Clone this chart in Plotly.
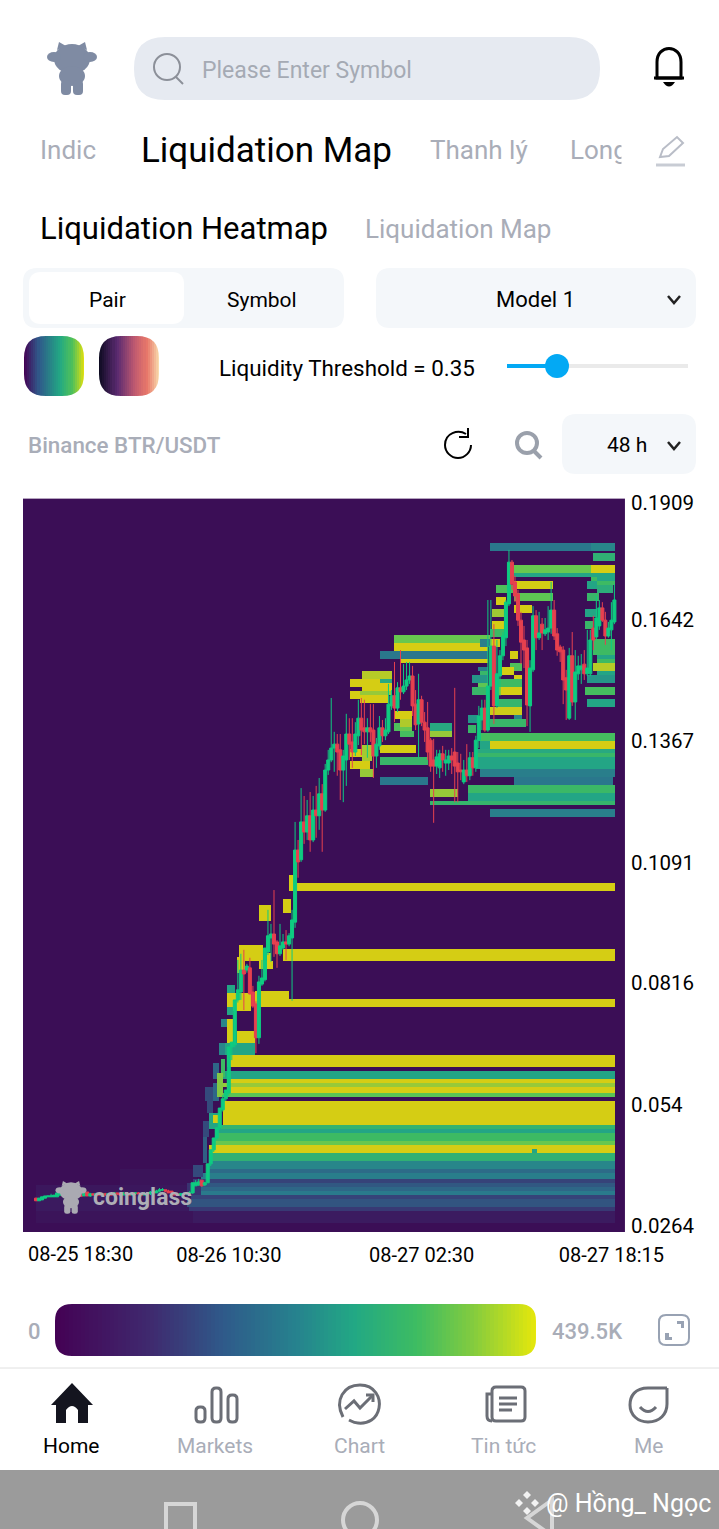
import numpy as np
import pandas as pd
import plotly.graph_objects as go

# BTR/USDT 15 min candles, prices in 1e-4 USDT
start_time = pd.Timestamp("2025-08-25 18:30")

candle_open = [
    327, 321, 323, 327, 330, 330, 330, 330, 334, 337, 334, 337, 334, 334, 339, 334, 332, 341, 332, 337,
    334, 337, 334, 337, 334, 337, 334, 339, 337, 334, 339, 337, 334, 337, 339, 337, 334, 337, 337, 341,
    339, 343, 346, 346, 343, 343, 339, 334, 334, 337, 337, 339, 339, 355, 357, 368, 357, 362, 405, 437,
    464, 487, 528, 553, 566, 671, 676, 778, 796, 846, 846, 851, 796, 769, 692, 814, 824, 887, 919, 928,
    910, 883, 896, 910, 905, 919, 955, 1119, 1097, 1183, 1160, 1197, 1142, 1210, 1197, 1247, 1210, 1301, 1324, 1351,
    1360, 1347, 1301, 1324, 1383, 1365, 1342, 1379, 1419, 1397, 1388, 1397, 1392, 1333, 1356, 1397, 1379, 1388, 1447, 1470,
    1442, 1488, 1479, 1492, 1506, 1515, 1451, 1406, 1461, 1410, 1397, 1369, 1324, 1310, 1306, 1338, 1317, 1317, 1333, 1342,
    1317, 1301, 1274, 1301, 1288, 1329, 1306, 1369, 1415, 1442, 1392, 1492, 1583, 1447, 1515, 1561, 1602, 1679, 1774, 1729,
    1702, 1642, 1597, 1579, 1447, 1529, 1652, 1602, 1633, 1611, 1615, 1624, 1665, 1611, 1581, 1574, 1511, 1419, 1561, 1456,
    1520, 1529, 1542, 1520, 1520, 1624, 1604, 1629, 1670, 1642, 1606, 1620, 1638,
]
candle_high = [
    328, 328, 330, 332, 332, 337, 334, 339, 339, 339, 339, 339, 337, 339, 341, 336, 341, 341, 339, 337,
    339, 339, 337, 339, 339, 339, 341, 339, 339, 341, 341, 337, 339, 341, 341, 339, 341, 339, 343, 346,
    346, 350, 350, 346, 346, 343, 341, 339, 339, 339, 341, 343, 362, 368, 371, 368, 364, 405, 437, 464,
    487, 532, 562, 573, 671, 682, 778, 869, 883, 892, 860, 874, 810, 775, 833, 869, 896, 983, 951, 1028,
    914, 951, 928, 937, 930, 983, 1183, 1142, 1260, 1242, 1233, 1251, 1242, 1265, 1283, 1269, 1315, 1347, 1465, 1388,
    1383, 1383, 1347, 1429, 1419, 1419, 1410, 1461, 1465, 1461, 1419, 1451, 1451, 1374, 1424, 1415, 1419, 1497, 1483, 1547,
    1501, 1574, 1542, 1547, 1547, 1538, 1483, 1520, 1470, 1433, 1456, 1374, 1372, 1347, 1347, 1356, 1347, 1347, 1351, 1488,
    1342, 1338, 1324, 1360, 1342, 1342, 1379, 1447, 1461, 1461, 1688, 1688, 1633, 1597, 1574, 1615, 1688, 1802, 1779, 1743,
    1711, 1661, 1629, 1597, 1551, 1674, 1665, 1661, 1647, 1647, 1674, 1729, 1688, 1624, 1586, 1583, 1529, 1579, 1615, 1574,
    1561, 1565, 1574, 1620, 1620, 1652, 1697, 1688, 1683, 1661, 1638, 1683, 1724,
]
candle_low = [
    321, 321, 323, 327, 330, 330, 330, 330, 332, 334, 334, 334, 332, 334, 334, 330, 332, 332, 330, 334,
    332, 334, 334, 334, 334, 334, 334, 334, 334, 334, 334, 334, 332, 334, 337, 334, 334, 334, 334, 339,
    339, 341, 343, 341, 339, 339, 334, 332, 332, 334, 334, 337, 337, 355, 355, 353, 355, 362, 400, 432,
    460, 482, 524, 548, 560, 641, 670, 772, 778, 755, 840, 790, 760, 657, 678, 810, 820, 880, 865, 876,
    851, 878, 892, 869, 900, 776, 942, 1056, 1092, 1133, 1142, 1115, 1137, 1147, 1165, 1115, 1206, 1290, 1319, 1297,
    1288, 1233, 1228, 1265, 1324, 1306, 1333, 1358, 1335, 1360, 1329, 1365, 1283, 1306, 1347, 1365, 1369, 1383, 1438, 1410,
    1433, 1461, 1474, 1483, 1497, 1424, 1392, 1329, 1401, 1365, 1324, 1297, 1181, 1292, 1283, 1297, 1288, 1301, 1292, 1228,
    1228, 1278, 1269, 1274, 1278, 1288, 1297, 1351, 1392, 1388, 1388, 1483, 1406, 1442, 1470, 1551, 1583, 1674, 1711, 1683,
    1629, 1542, 1533, 1401, 1388, 1524, 1574, 1597, 1574, 1606, 1597, 1611, 1597, 1561, 1547, 1451, 1415, 1415, 1447, 1415,
    1506, 1497, 1506, 1515, 1515, 1574, 1597, 1620, 1638, 1586, 1602, 1574, 1633,
]
candle_close = [
    321, 327, 330, 332, 332, 332, 334, 339, 337, 334, 337, 334, 337, 339, 334, 332, 341, 332, 337, 334,
    337, 334, 337, 334, 337, 334, 339, 337, 334, 339, 337, 334, 337, 339, 337, 334, 337, 337, 341, 339,
    343, 346, 346, 343, 339, 339, 334, 334, 337, 337, 339, 339, 362, 362, 364, 355, 362, 405, 437, 464,
    487, 532, 553, 573, 671, 682, 778, 801, 846, 837, 855, 792, 764, 692, 819, 828, 896, 924, 928, 905,
    883, 901, 910, 905, 924, 960, 1119, 1092, 1183, 1160, 1197, 1142, 1210, 1197, 1247, 1210, 1301, 1324, 1351, 1360,
    1342, 1301, 1333, 1383, 1360, 1342, 1383, 1419, 1392, 1388, 1397, 1388, 1333, 1360, 1397, 1379, 1392, 1451, 1470, 1442,
    1488, 1479, 1492, 1506, 1515, 1447, 1404, 1461, 1410, 1392, 1342, 1310, 1310, 1331, 1338, 1324, 1324, 1333, 1324, 1310,
    1297, 1297, 1301, 1288, 1329, 1306, 1369, 1424, 1442, 1392, 1492, 1583, 1447, 1520, 1561, 1606, 1683, 1774, 1724, 1697,
    1642, 1592, 1574, 1449, 1533, 1652, 1602, 1613, 1613, 1620, 1624, 1665, 1606, 1574, 1570, 1506, 1483, 1561, 1456, 1524,
    1538, 1538, 1520, 1533, 1597, 1597, 1647, 1670, 1642, 1606, 1624, 1642, 1688,
]

# liquidation bands: hours after start_time, price 1e-4 USDT, liquidity in K
band_start = [
    0, 0, 0, 7, 12.5, 13.0, 12.6, 12.5, 12.9, 13.6,
    13.6, 13.6, 13.0, 13.6, 14.3, 14.3, 14.4, 14.3, 14.8, 14.8,
    14.8, 14.8, 15.44, 15.27, 15.9, 15.27, 15.9, 15.27, 15.77, 15.1,
    15.1, 15.77, 16.6, 15.27, 15.77, 15.77, 15.77, 18.09, 21.08, 16.76,
    16.6, 18.42, 19.09, 20.58, 18.42, 20.58, 21.08, 21.58, 14.69, 15.27,
    14.6, 14.0, 15.02, 14.11, 14.27, 14.7, 13.78, 13.78, 13.03, 28.55,
    28.55, 28.55, 26.06, 27.06, 26.06, 26.89, 29.71, 30.21, 30.21, 30.21,
    29.71, 32.7, 32.7, 32.7, 26.06, 28.55, 27.06, 27.06, 26.06, 26.89,
    26.89, 29.71, 29.71, 28.55, 30.21, 36.85, 37.68, 37.68, 37.84, 37.84,
    38.18, 38.18, 39.67, 39.67, 39.67, 37.68, 45.98, 46.14, 39.67, 45.98,
    39.67, 45.98, 46.47, 45.64, 46.47, 45.64, 45.48, 45.48, 46.14, 46.47,
    46.47, 46.14, 46.47, 45.64, 45.48, 45.64, 36.68, 36.85, 36.18, 36.68,
    36.18, 39.34, 39.34, 38.67, 39.67, 38.34, 38.34, 38.34, 37.68, 39.67,
    37.68, 35.85, 35.85, 36.68, 36.85, 36.85, 37.68, 36.52, 36.52, 36.52,
    36.85, 39.67, 35.85, 35.85, 32.7, 37.68, 41.16,
]
band_end = [
    13.3, 13.3, 13.3, 13.3, 14.0, 48.05, 48.05, 48.05, 48.05, 48.05,
    48.05, 48.05, 48.05, 48.05, 48.05, 48.05, 48.05, 48.05, 48.05, 48.05,
    48.05, 48.05, 48.05, 48.05, 48.05, 48.05, 48.05, 48.05, 48.05, 18.17,
    15.6, 16.27, 18.09, 15.77, 17.76, 16.27, 16.43, 21.08, 48.05, 18.76,
    17.26, 19.75, 19.58, 48.05, 19.58, 21.24, 21.74, 48.05, 15.1, 15.7,
    15.1, 14.6, 15.44, 14.6, 15.27, 15.1, 14.27, 14.19, 13.78, 32.53,
    32.53, 31.54, 27.06, 27.89, 27.72, 28.05, 30.21, 31.37, 31.2, 31.2,
    31.2, 34.52, 34.52, 35.02, 28.55, 29.55, 29.55, 29.55, 26.89, 29.55,
    29.21, 37.68, 37.51, 37.51, 37.51, 37.68, 38.51, 38.84, 38.84, 38.84,
    39.0, 39.67, 42.82, 42.82, 41.16, 48.05, 48.05, 48.05, 45.98, 48.05,
    48.05, 48.05, 48.05, 46.47, 47.8, 46.64, 46.47, 46.14, 48.05, 48.05,
    48.05, 48.05, 48.05, 48.05, 48.05, 48.05, 37.51, 37.51, 37.51, 37.51,
    37.51, 40.0, 40.33, 39.67, 40.33, 40.33, 40.33, 40.33, 40.33, 40.33,
    40.67, 36.68, 36.52, 48.05, 48.05, 37.68, 48.05, 48.05, 48.05, 48.05,
    48.05, 47.8, 48.05, 48.05, 48.05, 48.05, 41.5,
]
band_low = [
    300, 273, 337, 359, 337, 273, 301, 310, 328, 337,
    346, 355, 364, 373, 387, 396, 414, 432, 451, 460,
    478, 487, 496, 560, 569, 582, 592, 601, 628, 655,
    655, 682, 682, 719, 755, 746, 796, 764, 764, 869,
    842, 851, 869, 869, 960, 978, 1028, 1028, 601, 603,
    550, 550, 557, 523, 487, 500, 466, 407, 375, 1269,
    1315, 1342, 1333, 1324, 1306, 1288, 1392, 1379, 1392, 1401,
    1419, 1379, 1392, 1242, 1492, 1501, 1511, 1483, 1465, 1474,
    1456, 1592, 1574, 1556, 1547, 1583, 1583, 1606, 1624, 1652,
    1679, 1706, 1715, 1688, 1661, 1802, 1802, 1779, 1752, 1752,
    1743, 1724, 1733, 1715, 1706, 1688, 1652, 1624, 1565, 1556,
    1547, 1529, 1520, 1501, 1474, 1447, 1529, 1511, 1501, 1492,
    1474, 1556, 1529, 1520, 1501, 1492, 1474, 1447, 1429, 1419,
    1401, 1410, 1388, 1369, 1351, 1360, 1351, 1342, 1333, 1306,
    1288, 1269, 1251, 1233, 1224, 1197, 432,
]
band_high = [
    337, 300, 359, 396, 364, 301, 310, 328, 337, 346,
    355, 364, 373, 387, 396, 414, 432, 451, 460, 478,
    487, 496, 550, 569, 582, 592, 601, 619, 655, 682,
    682, 737, 710, 737, 796, 764, 814, 801, 783, 905,
    878, 869, 887, 896, 996, 1010, 1065, 1046, 637, 646,
    589, 580, 612, 557, 523, 515, 505, 466, 403, 1288,
    1333, 1360, 1351, 1360, 1324, 1306, 1410, 1392, 1401, 1419,
    1438, 1392, 1410, 1260, 1511, 1511, 1529, 1501, 1483, 1483,
    1474, 1611, 1592, 1574, 1556, 1602, 1602, 1624, 1642, 1670,
    1697, 1724, 1733, 1706, 1679, 1820, 1820, 1797, 1770, 1770,
    1752, 1743, 1743, 1733, 1724, 1706, 1670, 1642, 1602, 1565,
    1556, 1547, 1529, 1520, 1492, 1465, 1538, 1529, 1520, 1501,
    1492, 1574, 1547, 1538, 1520, 1511, 1492, 1465, 1447, 1429,
    1419, 1429, 1406, 1388, 1360, 1369, 1369, 1351, 1342, 1333,
    1306, 1288, 1269, 1251, 1233, 1215, 441,
]
band_value = [
    11, 5, 8, 5, 35, 12, 45, 85, 60, 135,
    110, 90, 60, 140, 115, 150, 220, 430, 300, 250,
    190, 230, 430, 285, 430, 350, 430, 190, 430, 190,
    150, 430, 430, 150, 430, 190, 190, 430, 430, 430,
    430, 430, 430, 430, 430, 430, 430, 430, 110, 250,
    110, 70, 330, 70, 190, 430, 70, 100, 70, 130,
    240, 430, 430, 370, 430, 350, 270, 260, 300, 380,
    430, 350, 200, 350, 430, 200, 390, 430, 430, 350,
    430, 300, 430, 130, 430, 140, 430, 250, 430, 360,
    430, 270, 430, 290, 430, 130, 150, 220, 300, 430,
    190, 250, 190, 190, 210, 240, 190, 240, 250, 190,
    250, 390, 190, 170, 260, 190, 140, 240, 170, 290,
    240, 430, 270, 430, 430, 250, 430, 235, 420, 150,
    240, 170, 240, 260, 190, 190, 430, 200, 240, 190,
    140, 130, 245, 190, 235, 140, 190,
]

price_ticks = [0.1909, 0.1642, 0.1367, 0.1091, 0.0816, 0.054, 0.0264]
price_labels = ["0.1909", "0.1642", "0.1367", "0.1091", "0.0816", "0.054", "0.0264"]
time_ticks = ["2025-08-26 10:30", "2025-08-27 02:30", "2025-08-27 18:15"]
time_labels = ["08-26 10:30", "08-27 02:30", "08-27 18:15"]
max_liquidity = 439.5

heat_scale = [
    [0.0, "#3b0e56"], [0.07, "#3a3070"], [0.18, "#33507f"], [0.30, "#2a788c"], [0.43, "#23a586"],
    [0.57, "#3dba63"], [0.68, "#66c750"], [0.80, "#98c938"], [1.0, "#dccd10"],
]
legend_scale = [
    [0.0, "#440154"], [0.2, "#3f2a6f"], [0.35, "#2f5a8a"], [0.5, "#26828e"], [0.62, "#22a884"],
    [0.75, "#3dbc62"], [0.87, "#85cc3e"], [1.0, "#e8e80a"],
]
green_swatch = [[0.0, "#440154"], [0.25, "#2f5a8a"], [0.6, "#22a884"], [0.8, "#4fc05a"], [1.0, "#e0e00f"]]
magma_swatch = [[0.0, "#0c0a20"], [0.3, "#5a2a70"], [0.6, "#c05a70"], [0.8, "#e8786a"], [1.0, "#f9dcae"]]

# grid of 10 min by 2 px for the heatmap
W, H = 719, 1529
grid_minutes = np.arange(-65, 2935, 10)
grid_hours = grid_minutes / 60
grid_time = start_time + pd.to_timedelta(grid_minutes, unit="min")
grid_price = np.arange(0.0251, 0.1920, 0.000455)
z = np.zeros((len(grid_price), len(grid_hours)))
for s, e, lo, hi, v in zip(band_start, band_end, band_low, band_high, band_value, strict=True):
    rows = (grid_price >= lo / 1e4) & (grid_price < hi / 1e4)
    cols = (grid_hours >= s) & (grid_hours < e)
    z[np.ix_(rows, cols)] = v

candle_time = pd.date_range(start_time, periods=len(candle_close), freq="15min")

fig = go.Figure()
fig.add_trace(go.Heatmap(x=grid_time, y=grid_price, z=z, zmin=0, zmax=max_liquidity,
                         colorscale=heat_scale, showscale=False, hoverinfo="skip"))
fig.add_trace(go.Candlestick(
    x=candle_time,
    open=np.array(candle_open) / 1e4, high=np.array(candle_high) / 1e4,
    low=np.array(candle_low) / 1e4, close=np.array(candle_close) / 1e4,
    increasing=dict(line=dict(color="#0ecb81", width=1), fillcolor="#0ecb81"),
    decreasing=dict(line=dict(color="#e6404f", width=1), fillcolor="#e6404f"),
    showlegend=False,
))

# gradients drawn on a full page pixel axis
legend_x = np.linspace(55, 537, 120)
fig.add_trace(go.Heatmap(x=legend_x, y0=1330, dy=52, z=[legend_x], colorscale=legend_scale,
                         showscale=False, hoverinfo="skip", xaxis="x2", yaxis="y2"))
swatch_x = np.linspace(24, 84, 30)
fig.add_trace(go.Heatmap(x=swatch_x, y0=366, dy=60, z=[swatch_x], colorscale=green_swatch,
                         showscale=False, hoverinfo="skip", xaxis="x2", yaxis="y2"))
swatch_x2 = np.linspace(99, 159, 30)
fig.add_trace(go.Heatmap(x=swatch_x2, y0=366, dy=60, z=[swatch_x2], colorscale=magma_swatch,
                         showscale=False, hoverinfo="skip", xaxis="x2", yaxis="y2"))

shapes = []
notes = []


def rr_path(x0, y0, x1, y1, r):
    return (f"M{x0 + r} {y0} H{x1 - r} Q{x1} {y0} {x1} {y0 + r} V{y1 - r} Q{x1} {y1} {x1 - r} {y1} "
            f"H{x0 + r} Q{x0} {y1} {x0} {y1 - r} V{y0 + r} Q{x0} {y0} {x0 + r} {y0} Z")


def path(d, fill=None, line=None, width=0, rule=None):
    s = dict(type="path", path=d, xref="x2", yref="y2", layer="above",
             fillcolor=fill if fill else "rgba(0,0,0,0)",
             line=dict(color=line if line else "rgba(0,0,0,0)", width=width))
    if rule:
        s["fillrule"] = rule
    shapes.append(s)


def rrect(x0, y0, x1, y1, r, fill):
    path(rr_path(x0, y0, x1, y1, r), fill=fill)


def oval(cx, cy, rx, ry, fill=None, line=None, width=0):
    shapes.append(dict(type="circle", xref="x2", yref="y2", layer="above", x0=cx - rx, x1=cx + rx,
                       y0=cy - ry, y1=cy + ry, fillcolor=fill if fill else "rgba(0,0,0,0)",
                       line=dict(color=line if line else "rgba(0,0,0,0)", width=width)))


def mask(x0, y0, x1, y1, r):
    # white corners around a gradient
    outer = f"M{x0 - 5} {y0 - 2} H{x1 + 5} V{y1 + 2} H{x0 - 5} Z "
    path(outer + rr_path(x0, y0, x1, y1, r), fill="white", rule="evenodd")


def label(x, y, text, size, color="#000000", anchor="center", weight=None):
    font = dict(family="Roboto", size=size, color=color)
    if weight:
        font["weight"] = weight
    if anchor == "left":
        x -= 2
    notes.append(dict(text=text, x=x / W, y=1 - y / H, xref="paper", yref="paper", showarrow=False,
                      xanchor=anchor, yanchor="middle", font=font))


def bull(cx, top, s, color):
    oval(cx, top + 17 * s, 18 * s, 15 * s, fill=color)
    oval(cx - 18 * s, top + 15 * s, 7 * s, 5 * s, fill=color)
    oval(cx + 18 * s, top + 15 * s, 7 * s, 5 * s, fill=color)
    path(f"M{cx - 15 * s} {top + 8 * s} L{cx - 13 * s} {top} L{cx - 6 * s} {top + 4 * s} Z", fill=color)
    path(f"M{cx + 15 * s} {top + 8 * s} L{cx + 13 * s} {top} L{cx + 6 * s} {top + 4 * s} Z", fill=color)
    oval(cx, top + 34 * s, 13 * s, 10 * s, fill=color)
    rrect(cx - 11 * s, top + 38 * s, cx - 1 * s, top + 53 * s, 4 * s, color)
    rrect(cx + 1 * s, top + 38 * s, cx + 11 * s, top + 53 * s, 4 * s, color)


GRAY = "#a9adb8"
PANEL = "#f4f7fa"
ICON = "#6b6e76"

# header
bull(72, 42, 1.0, "#7f8ba3")
rrect(134, 37, 600, 100, 31, "#e6eaf1")
oval(167, 67, 13, 13, line="#8c9099", width=2)
path("M176 77 L183 84", line="#8c9099", width=2)
label(202, 70, "Please Enter Symbol", 23, "#a5aab4", "left")
path("M657 78 V62 C657 44 681 44 681 62 V78 Z", line="#000000", width=3)
path("M654 78 H684", line="#000000", width=3)
path("M663 82 H675 Q669 91 663 82 Z", fill="#000000")

label(40, 150, "Indic", 26, GRAY, "left")
label(141, 151, "Liquidation Map", 35, "#000000", "left")
label(430, 150, "Thanh lý", 26, GRAY, "left")
label(570, 150, "Long", 26, GRAY, "left")
# tab strip cuts the last tab off
notes.append(dict(text=" ", x=621 / W, y=1 - 150 / H, xref="paper", yref="paper", showarrow=False,
                  xanchor="left", yanchor="middle", width=14, height=34, bgcolor="#ffffff", borderpad=0))
path("M660 157 L663 149 L677 137 L683 143 L669 156 Z", line="#b9bdc7", width=2)
path("M656 165 H685", line="#c8ccd4", width=3)

label(40, 229, "Liquidation Heatmap", 31, "#000000", "left")
label(365, 229, "Liquidation Map", 26, GRAY, "left")

# controls
rrect(23, 268, 344, 328, 14, PANEL)
rrect(29, 272, 184, 324, 12, "#ffffff")
label(107, 300, "Pair", 21)
label(262, 300, "Symbol", 21)
rrect(376, 268, 696, 328, 14, PANEL)
label(535, 300, "Model 1", 22)
path("M668 296 L674 303 L680 296", line="#222222", width=2.5)

mask(24, 336, 84, 396, 22)
mask(99, 336, 159, 396, 22)
label(347, 368, "Liquidity Threshold = 0.35", 22.4)
path("M557 366 H688", line="#eaeaea", width=4)
path("M507 366 H557", line="#03a9f4", width=4)
oval(557, 366, 12, 12, fill="#03a9f4")

label(28, 445, "Binance BTR/USDT", 22.4, GRAY, "left", 500)
path("M466 434 C458 429 445 433 445 445 C445 452 451 458 458 458 C465 458 471 452 471 445", line="#000000", width=2)
path("M468 428 V437 H459", line="#000000", width=2)
oval(527, 443, 10, 10, line="#9aa0ab", width=4)
path("M534 451 L541 458", line="#9aa0ab", width=4)
rrect(562, 414, 696, 474, 14, PANEL)
label(627, 445, "48 h", 21)
path("M668 442 L674 449 L680 442", line="#222222", width=2.5)

# first time label sits right of its tick, it would not fit under the plot
notes.append(dict(text="08-25 18:30", x="2025-08-25 18:30", y=0, xref="x", yref="paper", showarrow=False,
                  xanchor="left", yanchor="middle", xshift=-10, yshift=1529 - 1254,
                  font=dict(family="Roboto", size=20, color="#000000")))

# watermark over the candles
bull(71, 1181, 0.62, "#aaaab2")
label(93, 1197, "coinglass", 23, "#aeaeb6", "left", 700)

# color legend
mask(55, 1304, 536, 1356, 17)
label(34, 1331, "0", 22, GRAY, "center", 500)
label(552, 1331, "439.5K", 22, GRAY, "left", 500)
path(rr_path(659, 1315, 689, 1345, 7), line="#98a2b3", width=2)
path("M677 1321 H684 V1328 H681 V1324 H677 Z", fill="#98a2b3")
path("M665 1333 H669 V1337 H672 V1340 H665 Z", fill="#98a2b3")

# bottom tab bar
path("M0 1368 H719", line="#e0e0e0", width=1)
path("M72 1383 L93 1405 H88 V1423 H78 V1410 Q72 1402 66 1410 V1423 H56 V1405 H51 Z", fill="#14151f")
label(71, 1446, "Home", 21)
path(rr_path(196, 1407, 205, 1422, 4), line=ICON, width=3)
path(rr_path(212, 1388, 221, 1422, 4), line=ICON, width=3)
path(rr_path(228, 1395, 237, 1422, 4), line=ICON, width=3)
label(215, 1446, "Markets", 21, GRAY)
path("M343 1417 C334 1400 344 1385 360 1385 C375 1385 381 1398 379 1408 C377 1419 368 1424 358 1423 "
     "C354 1423 351 1421 349 1420", line=ICON, width=3)
path("M345 1409 L354 1401 L360 1408 L372 1396", line=ICON, width=3)
path("M366 1395 H373 V1402", line=ICON, width=3)
label(359, 1446, "Chart", 21, GRAY)
path(rr_path(492, 1387, 525, 1421, 4), line=ICON, width=3)
path("M492 1394 H487 V1416 Q487 1421 492 1421", line=ICON, width=3)
path("M499 1398 H517 M499 1404 H517 M499 1410 H512", line=ICON, width=3)
label(503, 1446, "Tin tức", 21, GRAY)
path("M667 1388 H648 C635 1388 630 1396 630 1405 C630 1415 638 1422 648 1422 C660 1422 667 1414 667 1404 V1388",
     line=ICON, width=3)
path("M640 1407 Q648 1416 656 1407", line=ICON, width=3)
label(648, 1446, "Me", 21, GRAY)

# android bar and the poster's tag
path("M0 1470 H719 V1529 H0 Z", fill="#9b9b9b")
path("M166 1529 V1504 H195 V1529", line="#d6d6d6", width=4)
oval(360, 1520, 17, 17, line="#d6d6d6", width=4)
path("M552 1500 L527 1518 L552 1536 Z", line="#d6d6d6", width=4)
for dx, dy in [(0, -8), (-8, 0), (8, 0), (0, 8)]:
    path(f"M{527 + dx} {1503 + dy - 4} L{527 + dx + 4} {1503 + dy} L{527 + dx} {1503 + dy + 4} "
         f"L{527 + dx - 4} {1503 + dy} Z", fill="#f2f2f2")
label(546, 1503, "@ Hồng_ Ngọc", 25, "#ffffff", "left")

plot_left, plot_right = 23, 625
px_per_hour = 12.05
fig.update_layout(
    width=W, height=H, margin=dict(l=0, r=0, t=0, b=0, pad=0), autosize=False,
    paper_bgcolor="white", plot_bgcolor="rgba(0,0,0,0)", showlegend=False, boxgap=0, boxgroupgap=0,
    xaxis=dict(
        domain=[plot_left / W, plot_right / W], type="date", anchor="y", automargin=False,
        range=[start_time + pd.Timedelta(hours=(plot_left - 36) / px_per_hour),
               start_time + pd.Timedelta(hours=(plot_right - 36) / px_per_hour)],
        tickmode="array", tickvals=time_ticks, ticktext=time_labels,
        ticks="outside", ticklen=5, tickcolor="rgba(0,0,0,0)",
        tickfont=dict(family="Roboto", size=20, color="#000000"),
        showgrid=False, zeroline=False, showline=False, rangeslider=dict(visible=False), fixedrange=True,
    ),
    yaxis=dict(
        domain=[1 - 1232 / H, 1 - 498 / H], side="right", anchor="x", automargin=False,
        range=[0.0250, 0.1920], tickmode="array", tickvals=price_ticks, ticktext=price_labels,
        ticks="outside", ticklen=1, tickcolor="rgba(0,0,0,0)",
        tickfont=dict(family="Roboto", size=20.5, color="#000000"),
        showgrid=False, zeroline=False, showline=False, fixedrange=True,
    ),
    xaxis2=dict(domain=[0, 1], range=[0, W], visible=False, anchor="y2", fixedrange=True, automargin=False),
    yaxis2=dict(domain=[0, 1], range=[H, 0], visible=False, anchor="x2", fixedrange=True, automargin=False),
    shapes=shapes, annotations=notes,
)

fig.write_html("out.html", post_script="document.body.style.margin='0';", config=dict(displayModeBar=False))
